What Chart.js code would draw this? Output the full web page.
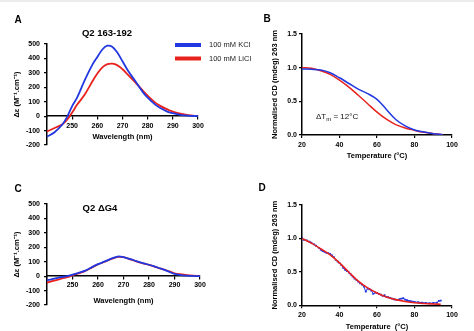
<!DOCTYPE html>
<html>
<head>
<meta charset="utf-8">
<script src="https://cdn.jsdelivr.net/npm/chart.js@4.4.0/dist/chart.umd.min.js"></script>
<style>
  html, body { margin: 0; padding: 0; background: #fff; }
  #wrap { position: relative; width: 474px; height: 331px; overflow: hidden; }
  #wrap canvas { position: absolute; }
  #band { position: absolute; left: 0; top: 0; width: 474px; height: 2px; background: #ececec; }
</style>
</head>
<body>
<div id="wrap">
  <div id="band"></div>
  <canvas id="chartA" width="260" height="165" style="left:0;top:0"></canvas>
  <canvas id="chartB" width="234" height="165" style="left:240px;top:0"></canvas>
  <canvas id="chartC" width="240" height="166" style="left:0;top:165px"></canvas>
  <canvas id="chartD" width="234" height="166" style="left:240px;top:165px"></canvas>
</div>
<script>
const FONT = "'Liberation Sans', Arial, Helvetica, sans-serif";
Chart.defaults.font.family = FONT;
Chart.defaults.color = '#000';

const BLUE = '#2138e0';
const RED = '#e8221d';
const saltLabels = ['100 mM KCl', '100 mM LiCl'];

// A - Q2 163-192 CD spectra
const aWave = [240, 243, 246, 248, 250, 252, 255, 258, 260, 262, 264, 266, 268, 270, 272, 275, 278, 280, 283, 285, 288, 290, 293, 296, 300];
const aKcl = [-142, -112, -60, -5, 70, 130, 250, 355, 410, 462, 488, 480, 440, 380, 320, 245, 168, 128, 80, 56, 30, 21, 9, 3, 0];
const aLicl = [-106, -82, -58, -25, 25, 80, 150, 240, 295, 338, 360, 364, 352, 325, 290, 235, 178, 142, 94, 71, 45, 32, 17, 7, 0];

// B - melting curves, 263 nm
const bTemp = [20, 25, 30, 35, 40, 45, 50, 55, 60, 65, 70, 75, 80, 85, 90, 95];
const bKcl = [0.98, 0.975, 0.965, 0.925, 0.85, 0.765, 0.68, 0.615, 0.53, 0.38, 0.23, 0.135, 0.075, 0.045, 0.02, 0.005];
const bLicl = [1.0, 0.99, 0.955, 0.9, 0.815, 0.71, 0.59, 0.465, 0.34, 0.235, 0.155, 0.105, 0.07, 0.04, 0.02, 0.005];

// C - Q2 dG4 CD spectra
const cWave = [240, 242, 245, 248, 250, 253, 255, 258, 260, 263, 265, 267, 268, 270, 273, 275, 278, 280, 283, 285, 288, 290, 293, 296, 300];
const cKcl = [-30, -20, -8, 0, 10, 26, 38, 66, 83, 104, 120, 132, 137, 132, 116, 104, 88, 79, 62, 50, 30, 15, 6, 2, 0];
const cLicl = [-46, -35, -20, -7, 6, 22, 36, 64, 82, 102, 118, 130, 134, 131, 115, 103, 87, 78, 61, 51, 33, 20, 12, 5, 0];

// D - melting curves, 263 nm
const dTemp = [20, 25, 30, 35, 40, 45, 50, 55, 60, 65, 70, 75, 80, 85, 90, 94];
const dLicl = [1.0, 0.93, 0.845, 0.755, 0.635, 0.495, 0.36, 0.26, 0.185, 0.125, 0.085, 0.058, 0.038, 0.027, 0.02, 0.016];
const dKclTemp = [20, 21, 22.5, 24, 25, 26.5, 27.5, 29, 30, 31, 32, 33, 34, 35, 36, 37, 38, 39, 40, 41, 42, 43, 44, 45, 46, 47, 48, 49, 50, 51, 52, 53, 54, 55, 56, 57, 58, 59, 60, 61, 62, 63, 64, 65, 66, 67, 68, 69, 70, 71, 72, 73, 74, 75, 76, 77, 78, 79, 80, 82, 84, 86, 88, 90, 92, 93, 94];
const dKcl = [1.01, 0.98, 0.97, 0.95, 0.935, 0.91, 0.89, 0.86, 0.83, 0.81, 0.8, 0.785, 0.78, 0.77, 0.745, 0.72, 0.68, 0.655, 0.63, 0.6, 0.56, 0.53, 0.51, 0.49, 0.46, 0.43, 0.4, 0.38, 0.355, 0.33, 0.31, 0.28, 0.205, 0.25, 0.24, 0.22, 0.17, 0.19, 0.185, 0.17, 0.16, 0.14, 0.15, 0.125, 0.12, 0.11, 0.1, 0.09, 0.085, 0.08, 0.09, 0.1, 0.105, 0.085, 0.075, 0.065, 0.06, 0.055, 0.05, 0.045, 0.04, 0.035, 0.03, 0.035, 0.04, 0.065, 0.07];

const pts = (xs, ys) => xs.map((x, i) => ({ x: x, y: ys[i] }));

const tickFont = { size: 7, weight: 'bold' };
const axisTitleFont = { size: 7.5, weight: 'bold' };

// panel letters, titles, legend and the dTm note
const textPlugin = {
  id: 'panelText',
  afterDraw(chart, args, opts) {
    const ctx = chart.ctx;
    ctx.save();
    ctx.textBaseline = 'middle';
    (opts.items || []).forEach(it => {
      ctx.font = it.font;
      ctx.fillStyle = '#000';
      ctx.textAlign = it.align || 'center';
      ctx.fillText(it.text, it.x, it.y);
    });
    if (opts.legend) {
      const lg = opts.legend;
      chart.data.datasets.forEach((ds, i) => {
        const y = lg.y + i * lg.gap;
        ctx.strokeStyle = ds.borderColor;
        ctx.lineWidth = 4;
        ctx.beginPath();
        ctx.moveTo(lg.x, y);
        ctx.lineTo(lg.x + 26, y);
        ctx.stroke();
        ctx.fillStyle = '#222';
        ctx.font = '7.5px ' + FONT;
        ctx.textAlign = 'left';
        ctx.fillText(ds.label, lg.x + 34, y);
      });
    }
    if (opts.tm) {
      const t = opts.tm;
      let x = t.x;
      ctx.fillStyle = '#111';
      ctx.textAlign = 'left';
      ctx.textBaseline = 'alphabetic';
      ctx.font = '8px ' + FONT;
      ctx.fillText('\u0394T', x, t.y);
      x += ctx.measureText('\u0394T').width;
      ctx.font = '6px ' + FONT;
      ctx.fillText('m', x, t.y + 2);
      x += ctx.measureText('m').width;
      ctx.font = '8px ' + FONT;
      ctx.fillText(' = 12\u00B0C', x, t.y);
    }
    ctx.restore();
  }
};

function line(label, data, color, width) {
  return {
    label: label, data: data, borderColor: color, backgroundColor: color,
    borderWidth: width, pointRadius: 0, tension: 0.35, fill: false
  };
}

function yAxis(min, max, step, title, width, titlePad, tickPad, fmt) {
  return {
    type: 'linear', min: min, max: max,
    ticks: { stepSize: step, font: tickFont, color: '#000', padding: tickPad, callback: fmt },
    grid: { drawOnChartArea: false, tickLength: 3, color: '#000', lineWidth: 1.2 },
    border: { color: '#000', width: 1.5 },
    title: { display: true, text: title, font: axisTitleFont, color: '#000', padding: { top: titlePad, bottom: 0 } },
    afterFit: s => { s.width = width; }
  };
}

function xAxis(min, max, step, title, height, tickPad, extra) {
  return Object.assign({
    type: 'linear', min: min, max: max,
    ticks: { stepSize: step, font: tickFont, color: '#000', padding: tickPad, maxRotation: 0 },
    grid: { drawOnChartArea: false, tickLength: 3, color: '#000', lineWidth: 1.2 },
    border: { color: '#000', width: 1.5 },
    title: { display: true, text: title, font: axisTitleFont, color: '#000', padding: 0 },
    afterFit: s => { s.height = height; }
  }, extra || {});
}

function baseOptions(padding, scales, texts) {
  return {
    responsive: false,
    animation: false,
    layout: { padding: padding },
    plugins: { legend: { display: false }, tooltip: { enabled: false }, panelText: texts },
    scales: scales
  };
}

const hide240 = v => (v === 240 ? '' : v);
const oneDec = v => v.toFixed(1);

const xA = xAxis(240, 300, 10, 'Wavelength (nm)', 25, 3, { position: { y: 0 } });
xA.ticks.callback = hide240;
new Chart(document.getElementById('chartA'), {
  type: 'line',
  data: { datasets: [
    line(saltLabels[0], pts(aWave, aKcl), BLUE, 1.8),
    line(saltLabels[1], pts(aWave, aLicl), RED, 1.8)
  ] },
  options: baseOptions({ left: 0, top: 44, right: 62, bottom: 20 }, {
    x: xA,
    y: yAxis(-200, 500, 100, '\u0394\u03B5 (M\u207B\u00B9.cm\u207B\u00B9)', 47, 12, 4)
  }, {
    items: [
      { text: 'A', x: 18, y: 20, font: 'bold 10px ' + FONT },
      { text: 'Q2 163-192', x: 107, y: 33, font: 'bold 9.5px ' + FONT }
    ],
    legend: { x: 175, y: 45, gap: 13.5 }
  }),
  plugins: [textPlugin]
});

new Chart(document.getElementById('chartB'), {
  type: 'line',
  data: { datasets: [
    line(saltLabels[0], pts(bTemp, bKcl), BLUE, 1.5),
    line(saltLabels[1], pts(bTemp, bLicl), RED, 1.5)
  ] },
  options: baseOptions({ left: 0, top: 34, right: 22, bottom: 5 }, {
    x: xAxis(20, 100, 20, 'Temperature (\u00B0C)', 25, 3),
    y: yAxis(0, 1.5, 0.5, 'Normalised CD (mdeg) 263 nm', 62, 30.5, 2, oneDec)
  }, {
    items: [{ text: 'B', x: 27, y: 19, font: 'bold 10px ' + FONT }],
    tm: { x: 76, y: 118.5 }
  }),
  plugins: [textPlugin]
});

const xC = xAxis(240, 300, 10, 'Wavelength (nm)', 29.5, 2, { position: { y: 0 } });
xC.ticks.callback = hide240;
new Chart(document.getElementById('chartC'), {
  type: 'line',
  data: { datasets: [
    line(saltLabels[0], pts(cWave, cKcl), BLUE, 1.8),
    line(saltLabels[1], pts(cWave, cLicl), RED, 1.8)
  ] },
  options: baseOptions({ left: 0, top: 39, right: 40, bottom: 26 }, {
    x: xC,
    y: yAxis(-200, 500, 100, '\u0394\u03B5 (M\u207B\u00B9.cm\u207B\u00B9)', 47, 12, 4)
  }, {
    items: [
      { text: 'C', x: 18, y: 24, font: 'bold 10px ' + FONT },
      { text: 'Q2 \u0394G4', x: 100, y: 43, font: 'bold 9.5px ' + FONT }
    ]
  }),
  plugins: [textPlugin]
});

const dBlue = line(saltLabels[0], pts(dKclTemp, dKcl), BLUE, 1);
dBlue.pointRadius = 1.3;
dBlue.pointStyle = 'rect';
dBlue.pointBorderWidth = 0;
dBlue.tension = 0;

new Chart(document.getElementById('chartD'), {
  type: 'line',
  data: { datasets: [
    line(saltLabels[1], pts(dTemp, dLicl), RED, 1.6),
    dBlue
  ] },
  options: baseOptions({ left: 0, top: 40, right: 22, bottom: 0 }, {
    x: xAxis(20, 100, 20, 'Temperature  (\u00B0C)', 25.7, 3),
    y: yAxis(0, 1.5, 0.5, 'Normalised CD (mdeg) 263 nm', 62, 30.5, 2, oneDec)
  }, {
    items: [{ text: 'D', x: 22, y: 23, font: 'bold 10px ' + FONT }]
  }),
  plugins: [textPlugin]
});
</script>
</body>
</html>
